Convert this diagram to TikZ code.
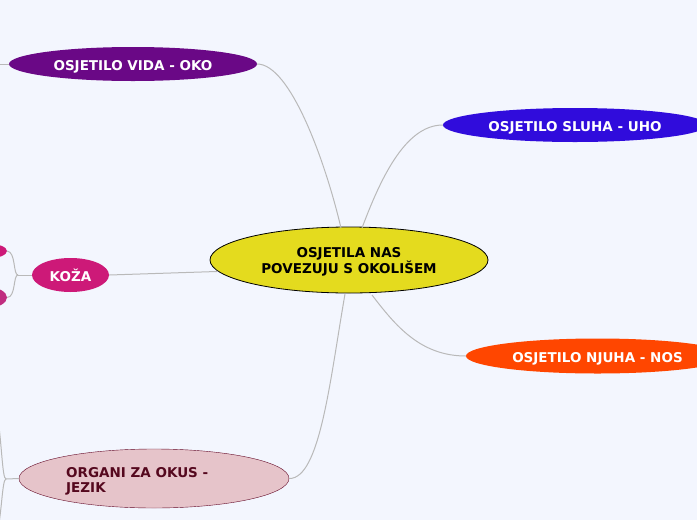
\documentclass[tikz,border=0pt]{standalone}
\usepackage{fontspec}
\setmainfont{DejaVu Sans}
\usetikzlibrary{shapes.geometric}
\definecolor{bgblue}{RGB}{243,246,254}
\definecolor{cmain}{RGB}{228,219,30}
\definecolor{cvida}{RGB}{106,8,134}
\definecolor{csluh}{RGB}{48,12,220}
\definecolor{cnjuh}{RGB}{255,70,0}
\definecolor{ckoza}{RGB}{205,25,120}
\definecolor{ckozb}{RGB}{192,45,128}
\definecolor{cokus}{RGB}{230,196,202}
\definecolor{cokusd}{RGB}{100,10,40}
\definecolor{cokust}{RGB}{85,8,30}
\definecolor{clink}{RGB}{185,185,185}
\tikzset{
  topic/.style={ellipse, draw=black, thick, fill=cmain, inner sep=0pt,
                minimum width=278pt, minimum height=66pt, align=center,
                text height=27.8pt, text depth=0pt,
                font=\fontsize{13.5}{16}\selectfont\bfseries},
  sub/.style={ellipse, inner sep=0pt, minimum height=34pt, text=white,
              text height=13pt, text depth=0pt,
              font=\fontsize{13.5}{15.5}\selectfont\bfseries},
  leaf/.style={ellipse, inner sep=0pt},
  lnk/.style={clink, line width=1pt},
}
\begin{document}
\begin{tikzpicture}[x=1pt, y=-1pt]
  \fill[bgblue] (0,0) rectangle (697,520);
  \useasboundingbox (0,0) rectangle (697,520);
  \clip (0,0) rectangle (697,520);
  % central topic and branches
  \node[topic] (osj) at (349,260) {OSJETILA NAS\\POVEZUJU S OKOLIŠEM};
  \node[sub, fill=cvida, minimum width=248pt] (vida) at (133,64) {OSJETILO VIDA - OKO};
  \node[sub, fill=csluh, minimum width=264pt] (sluh) at (575,125) {OSJETILO SLUHA - UHO};
  \node[sub, fill=cnjuh, minimum width=263pt, minimum height=35pt] (njuh) at (597.5,356) {OSJETILO NJUHA - NOS};
  \node[sub, fill=ckoza, minimum width=77pt] (koza) at (70.5,275) {KOŽA};
  \node[ellipse, draw=cokusd, fill=cokus, inner sep=0pt, minimum width=270pt, minimum height=59pt] (okus) at (154,478.5) {};
  \node[anchor=west, align=left, inner sep=0pt, text=cokust, font=\fontsize{13.5}{15}\selectfont\bfseries] (okust) at (66,481.5) {ORGANI ZA OKUS -\\JEZIK};
  % cut off nodes at the left edge
  \node[leaf, fill=ckoza, minimum width=40pt, minimum height=15pt] (koza1) at (-13,251) {};
  \node[leaf, fill=ckozb, minimum width=40pt, minimum height=21pt] (koza2) at (-13,297.5) {};
  \coordinate (kozaj) at (18,275);
  \coordinate (okusj) at (6,479);
  \coordinate (vidal) at (-2,64);
  \coordinate (okus1) at (-4,405);
  \coordinate (okus2) at (-4,540);
  % connectors
  \draw[lnk] (341,228) .. controls (325,160) and (290,64) .. (vida.east);
  \draw[lnk] (362,228) .. controls (380,180) and (405,125) .. (sluh.west);
  \draw[lnk] (372,295) .. controls (395,325) and (420,356) .. (njuh.west);
  \draw[lnk] (osj.185) -- (koza.east);
  \draw[lnk] (345,294) .. controls (330,380) and (320,479) .. (okus.east);
  \draw[lnk] (vida.west) -- (vidal);
  \draw[lnk] (koza.west) -- (kozaj);
  \draw[lnk] (kozaj) .. controls (13,275) and (16,252) .. (koza1.east);
  \draw[lnk] (kozaj) .. controls (13,275) and (16,297) .. (koza2.east);
  \draw[lnk] (okus.west) -- (okusj);
  \draw[lnk] (okusj) .. controls (2,479) and (2,440) .. (okus1);
  \draw[lnk] (okusj) .. controls (2,479) and (2,515) .. (okus2);
\end{tikzpicture}
\end{document}
